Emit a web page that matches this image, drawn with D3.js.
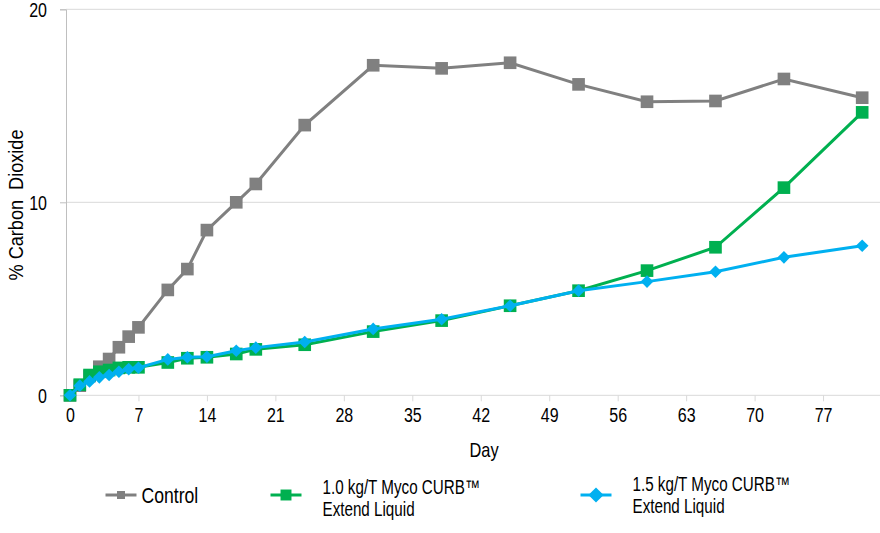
<!DOCTYPE html>
<html>
<head>
<meta charset="utf-8">
<script src="https://cdn.jsdelivr.net/npm/d3@7"></script>
<style>
  body { margin: 0; background: #fff; }
  svg { display: block; font-family: "Liberation Sans", Arial, sans-serif; }
</style>
</head>
<body>
<div id="chart"></div>
<script>
// days sampled (shared by all series)
const days = [0, 1, 2, 3, 4, 5, 6, 7, 10, 12, 14, 17, 19, 24, 31, 38, 45, 52, 59, 66, 73, 81];

const control = [0, 0.5, 1.0, 1.48, 1.88, 2.49, 3.04, 3.52, 5.46, 6.54, 8.56, 10.0, 10.95, 14.0, 17.1, 16.94, 17.23, 16.11, 15.21, 15.25, 16.39, 15.42];
const myco10 = [0, 0.55, 1.05, 1.22, 1.31, 1.42, 1.45, 1.45, 1.7, 1.92, 1.97, 2.14, 2.38, 2.62, 3.3, 3.87, 4.64, 5.42, 6.46, 7.67, 10.76, 14.66];
const myco15 = [0, 0.5, 0.72, 0.93, 1.05, 1.22, 1.36, 1.43, 1.86, 1.97, 2.0, 2.31, 2.47, 2.76, 3.44, 3.94, 4.64, 5.42, 5.89, 6.4, 7.15, 7.75];

const xTicks = [0, 7, 14, 21, 28, 35, 42, 49, 56, 63, 70, 77];
const yTicks = [0, 10, 20];

const seriesNames = ["Control", "1.0 kg/T Myco CURB\u2122\nExtend Liquid", "1.5 kg/T Myco CURB\u2122\nExtend Liquid"];
const seriesColors = ["#808080", "#00b050", "#00b0f0"];
const seriesShapes = ["square", "square", "diamond"];

const width = 880, height = 533;
const narrowK = 0.8; // fake an Arial Narrow look

const svg = d3.select('#chart').append('svg')
    .attr('width', width)
    .attr('height', height);

const x = d3.scaleLinear().domain([0, 83]).range([70, 70 + 83 * 9.78]);
const y = d3.scaleLinear().domain([0, 20]).range([395.3, 9.3]);
const axisLeftX = 66, plotRight = 880;

// narrow text placed at (tx, ty)
function narrowText(parent, tx, ty, str, size, anchor, k) {
    return parent.append('text')
        .attr('transform', `translate(${tx},${ty}) scale(${k || narrowK},1)`)
        .attr('text-anchor', anchor || 'start')
        .attr('font-size', size)
        .attr('fill', '#000')
        .text(str);
}

// gridlines
svg.append('g').selectAll('line')
    .data(yTicks.filter(d => d > 0))
    .join('line')
    .attr('x1', axisLeftX).attr('x2', plotRight)
    .attr('y1', d => y(d)).attr('y2', d => y(d))
    .attr('stroke', '#d9d9d9').attr('stroke-width', 1);

// y axis
const yAxis = svg.append('g')
    .attr('transform', `translate(${axisLeftX},0)`)
    .call(d3.axisLeft(y).tickValues(yTicks).tickSize(6).tickPadding(7));
yAxis.select('.domain').attr('stroke', '#bfbfbf');
yAxis.selectAll('.tick line').attr('stroke', '#bfbfbf');
yAxis.selectAll('.tick text')
    .attr('font-size', 20).attr('fill', '#000').attr('font-family', null)
    .attr('x', null).attr('dy', '0.36em')
    .attr('transform', `translate(-19,0) scale(${narrowK},1)`);

// x axis
svg.append('line')
    .attr('x1', axisLeftX).attr('x2', plotRight)
    .attr('y1', y(0)).attr('y2', y(0))
    .attr('stroke', '#d9d9d9');
const xAxis = svg.append('g')
    .attr('transform', `translate(0,${y(0)})`)
    .call(d3.axisBottom(x).tickValues(xTicks).tickSize(6).tickPadding(8));
xAxis.select('.domain').remove();
xAxis.selectAll('.tick line').attr('stroke', '#d9d9d9');
xAxis.selectAll('.tick text')
    .attr('font-size', 20).attr('fill', '#000').attr('font-family', null)
    .attr('y', 20).attr('dy', '0.36em')
    .attr('transform', `scale(${narrowK},1)`);

// axis titles
narrowText(svg, 484, 457, 'Day', 20, 'middle', 0.82);
svg.append('text')
    .attr('transform', 'translate(23,205) rotate(-90)')
    .attr('text-anchor', 'middle')
    .attr('font-size', 21)
    .attr('textLength', 151)
    .attr('lengthAdjust', 'spacingAndGlyphs')
    .style('white-space', 'pre')
    .text('% Carbon  Dioxide');

const symbolFor = (shape, size) => shape === 'diamond'
    ? d3.symbol().type(d3.symbolSquare).size(size * 0.5)()
    : d3.symbol().type(d3.symbolSquare).size(size)();

const allSeries = [control, myco10, myco15];
const line = d3.line().x(d => x(d[0])).y(d => y(d[1]));

allSeries.forEach((vals, i) => {
    const pts = days.map((d, j) => [d, vals[j]]);
    const g = svg.append('g');
    g.append('path')
        .attr('d', line(pts))
        .attr('fill', 'none')
        .attr('stroke', seriesColors[i])
        .attr('stroke-width', 3);
    g.selectAll('path.m')
        .data(pts)
        .join('path')
        .attr('class', 'm')
        .attr('transform', d => `translate(${x(d[0])},${y(d[1])})` + (seriesShapes[i] === 'diamond' ? ' rotate(45)' : ''))
        .attr('d', symbolFor(seriesShapes[i], 160))
        .attr('fill', seriesColors[i]);
});

// legend
const legend = [
    { cx: 121, ly: 495, tx: 141.5, base: [502.5], size: 22, k: 0.8, mark: 64 },
    { cx: 286, ly: 495, tx: 322.5, base: [494, 516], size: 19.5, k: 0.78, mark: 120 },
    { cx: 596, ly: 495, tx: 632.5, base: [491, 513], size: 19.5, k: 0.78, mark: 230 }
];
seriesNames.forEach((name, i) => {
    const p = legend[i];
    const g = svg.append('g');
    g.append('line')
        .attr('x1', p.cx - 15.5).attr('x2', p.cx + 15.5)
        .attr('y1', p.ly).attr('y2', p.ly)
        .attr('stroke', seriesColors[i]).attr('stroke-width', 3);
    g.append('path')
        .attr('transform', `translate(${p.cx},${p.ly})` + (seriesShapes[i] === 'diamond' ? ' rotate(45)' : ''))
        .attr('d', symbolFor(seriesShapes[i], p.mark))
        .attr('fill', seriesColors[i]);
    name.split('\n').forEach((s, k) => {
        narrowText(g, p.tx, p.base[k], s, p.size, 'start', p.k);
    });
});
</script>
</body>
</html>
